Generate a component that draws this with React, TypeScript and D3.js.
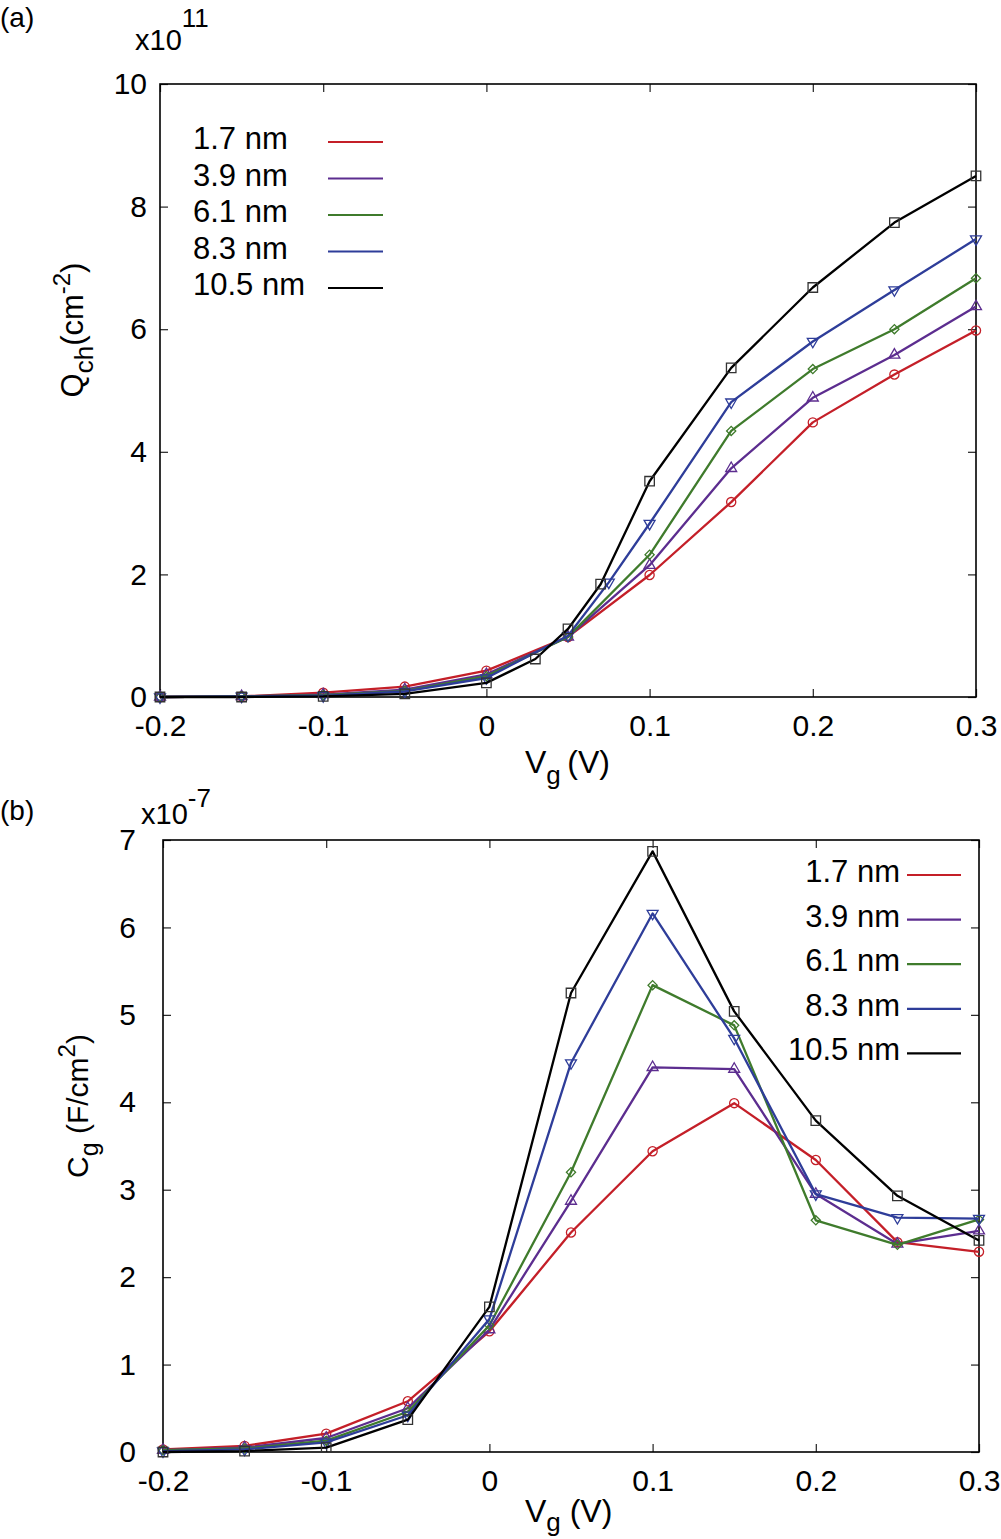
import { useEffect, useRef } from "react";
import * as d3 from "d3";

const W = 1001;
const H = 1539;
const FONT = "'Liberation Sans', Arial, Helvetica, sans-serif";

const seriesNames = ["1.7 nm", "3.9 nm", "6.1 nm", "8.3 nm", "10.5 nm"];
const seriesColors = ["#c41f28", "#5c2d8f", "#3f7b2c", "#2e3d99", "#000000"];
const seriesMarkers = ["circle", "triangleUp", "diamond", "triangleDown", "square"];

// gate voltage sweep (V)
const vg = [-0.2, -0.15, -0.1, -0.05, 0, 0.05, 0.1, 0.15, 0.2, 0.25, 0.3];
const vgQ83 = [-0.2, -0.15, -0.1, -0.05, 0, 0.05, 0.075, 0.1, 0.15, 0.2, 0.25, 0.3];
const vgQ105 = [-0.2, -0.15, -0.1, -0.05, 0, 0.03, 0.05, 0.07, 0.1, 0.15, 0.2, 0.25, 0.3];

// channel charge, x1e11 cm^-2
const q17 = [0, 0.01, 0.07, 0.17, 0.43, 0.98, 1.99, 3.18, 4.48, 5.26, 5.98];
const q39 = [0, 0.01, 0.04, 0.12, 0.37, 0.98, 2.15, 3.73, 4.88, 5.58, 6.37];
const q61 = [0, 0.01, 0.03, 0.1, 0.34, 0.98, 2.32, 4.34, 5.35, 6.0, 6.83];
const q83 = [0, 0.01, 0.02, 0.09, 0.31, 1.0, 1.87, 2.83, 4.81, 5.8, 6.64, 7.47];
const q105 = [0, 0, 0.01, 0.05, 0.23, 0.62, 1.11, 1.84, 3.52, 5.37, 6.68, 7.74, 8.5];

// gate capacitance, x1e-7 F/cm^2
const c17 = [0.03, 0.07, 0.21, 0.58, 1.38, 2.51, 3.44, 3.99, 3.34, 2.4, 2.29];
const c39 = [0.02, 0.05, 0.16, 0.5, 1.4, 2.87, 4.4, 4.38, 2.95, 2.38, 2.53];
const c61 = [0.02, 0.04, 0.13, 0.46, 1.45, 3.2, 5.34, 4.88, 2.65, 2.37, 2.66];
const c83 = [0.01, 0.03, 0.11, 0.42, 1.52, 4.45, 6.16, 4.73, 2.95, 2.68, 2.67];
const c105 = [0.0, 0.01, 0.05, 0.37, 1.66, 5.25, 6.87, 5.04, 3.79, 2.93, 2.42];

const xTicks = [-0.2, -0.1, 0, 0.1, 0.2, 0.3];
const qTicks = [0, 2, 4, 6, 8, 10];
const cTicks = [0, 1, 2, 3, 4, 5, 6, 7];

type Series = { name: string; color: string; marker: string; xs: number[]; ys: number[] };

const qSeries: Series[] = [
  [vg, q17],
  [vg, q39],
  [vg, q61],
  [vgQ83, q83],
  [vgQ105, q105],
].map(([xs, ys], i) => ({
  name: seriesNames[i],
  color: seriesColors[i],
  marker: seriesMarkers[i],
  xs,
  ys,
}));

const cSeries: Series[] = [c17, c39, c61, c83, c105].map((ys, i) => ({
  name: seriesNames[i],
  color: seriesColors[i],
  marker: seriesMarkers[i],
  xs: vg,
  ys,
}));

function markerPath(kind: string): string {
  switch (kind) {
    case "circle":
      return d3.symbol(d3.symbolCircle, 66)()!;
    case "triangleUp":
    case "triangleDown":
      return d3.symbol(d3.symbolTriangle, 52)()!;
    case "diamond":
      return d3.symbol(d3.symbolSquare, 42)()!;
    default:
      return d3.symbol(d3.symbolSquare, 90)()!;
  }
}

function markerRotation(kind: string) {
  if (kind === "triangleDown") return 180;
  if (kind === "diamond") return 45;
  return 0;
}

const fmtX = (v: number) => (v === 0 ? "0" : (v < 0 ? "-" : "") + Math.abs(v).toFixed(1));

type PanelCfg = {
  left: number;
  right: number;
  top: number;
  bottom: number;
  yDomain: [number, number];
  yTicks: number[];
  yPad: number;
  series: Series[];
};

function drawPanel(svg: d3.Selection<SVGSVGElement, unknown, null, undefined>, cfg: PanelCfg) {
  const x = d3.scaleLinear().domain([-0.2, 0.3]).range([cfg.left, cfg.right]);
  const y = d3.scaleLinear().domain(cfg.yDomain).range([cfg.bottom, cfg.top]);
  const tick = 8;

  const styleAxis = (g: any) => {
    g.select(".domain").remove();
    g.attr("font-family", FONT).attr("font-size", 30).attr("color", "#222");
    g.selectAll("text").attr("fill", "#000");
    g.selectAll("line").attr("stroke-width", 1.2);
  };

  svg
    .append("g")
    .attr("transform", `translate(0,${cfg.bottom})`)
    .call(d3.axisBottom(x).tickValues(xTicks).tickFormat((d: any) => fmtX(d)).tickSize(-tick).tickPadding(18))
    .call(styleAxis);
  svg
    .append("g")
    .attr("transform", `translate(0,${cfg.top})`)
    .call(d3.axisTop(x).tickValues(xTicks).tickFormat(() => "").tickSize(-tick))
    .call(styleAxis);
  svg
    .append("g")
    .attr("transform", `translate(${cfg.left},0)`)
    .call(d3.axisLeft(y).tickValues(cfg.yTicks).tickFormat(d3.format("d")).tickSize(-tick).tickPadding(cfg.yPad))
    .call(styleAxis);
  svg
    .append("g")
    .attr("transform", `translate(${cfg.right},0)`)
    .call(d3.axisRight(y).tickValues(cfg.yTicks).tickFormat(() => "").tickSize(-tick))
    .call(styleAxis);

  svg
    .append("rect")
    .attr("x", cfg.left)
    .attr("y", cfg.top)
    .attr("width", cfg.right - cfg.left)
    .attr("height", cfg.bottom - cfg.top)
    .attr("fill", "none")
    .attr("stroke", "#000")
    .attr("stroke-width", 1.6);

  const line = d3
    .line<[number, number]>()
    .x((d) => x(d[0]))
    .y((d) => y(d[1]));

  cfg.series.forEach((s) => {
    const pts: [number, number][] = s.xs.map((v, i) => [v, s.ys[i]]);
    const g = svg.append("g");
    g.append("path")
      .attr("d", line(pts))
      .attr("fill", "none")
      .attr("stroke", s.color)
      .attr("stroke-width", 2.3)
      .attr("stroke-linejoin", "round");
    g.selectAll("path.mk")
      .data(pts)
      .join("path")
      .attr("class", "mk")
      .attr("d", markerPath(s.marker))
      .attr("transform", (d) => `translate(${x(d[0])},${y(d[1])}) rotate(${markerRotation(s.marker)})`)
      .attr("fill", "none")
      .attr("stroke", s.color === "#000000" ? "#333" : s.color)
      .attr("stroke-width", 1.3);
  });
}

export default function App() {
  const svgRef = useRef<SVGSVGElement>(null);

  useEffect(() => {
    const svg = d3.select(svgRef.current!);
    svg.selectAll("*").remove();
    svg.attr("font-family", FONT);

    // (a) channel charge
    drawPanel(svg, {
      left: 160, right: 976, top: 84, bottom: 697,
      yDomain: [0, 10], yTicks: qTicks, yPad: 13, series: qSeries,
    });

    // (b) gate capacitance
    drawPanel(svg, {
      left: 163, right: 979, top: 840, bottom: 1452,
      yDomain: [0, 7], yTicks: cTicks, yPad: 27, series: cSeries,
    });

    const txt = (x: number, y: number, size = 30) =>
      svg.append("text").attr("x", x).attr("y", y).attr("font-size", size).attr("fill", "#000");

    txt(0, 27, 28).text("(a)");
    txt(0, 820, 28).text("(b)");

    const e1 = txt(135, 50, 29);
    e1.append("tspan").text("x10");
    e1.append("tspan").attr("dy", -23).attr("font-size", 26).text("11");
    const e2 = txt(141, 824, 29);
    e2.append("tspan").text("x10");
    e2.append("tspan").attr("dy", -17).attr("font-size", 26).text("-7");

    // axis titles
    [773, 1522].forEach((base, i) => {
      const t = txt(525, base, 32);
      t.append("tspan").text("V");
      t.append("tspan").attr("dy", i === 0 ? 11 : 9).attr("font-size", 26).text("g");
      t.append("tspan").attr("dy", i === 0 ? -11 : -9).text(i === 0 ? "\u2009(V)" : "\u00a0(V)");
    });

    const qLab = svg
      .append("text")
      .attr("transform", "translate(83,330) rotate(-90)")
      .attr("text-anchor", "middle")
      .attr("font-size", 31);
    qLab.append("tspan").text("Q");
    qLab.append("tspan").attr("dy", 10).attr("font-size", 26).text("ch");
    qLab.append("tspan").attr("dy", -10).text("(cm");
    qLab.append("tspan").attr("dy", -13).attr("font-size", 24).text("-2");
    qLab.append("tspan").attr("dy", 13).text(")");

    const cLab = svg
      .append("text")
      .attr("transform", "translate(88,1106) rotate(-90)")
      .attr("text-anchor", "middle")
      .attr("font-size", 30);
    cLab.append("tspan").text("C");
    cLab.append("tspan").attr("dy", 10).attr("font-size", 25).text("g");
    cLab.append("tspan").attr("dy", -10).text(" (F/cm");
    cLab.append("tspan").attr("dy", -13).attr("font-size", 24).text("2");
    cLab.append("tspan").attr("dy", 13).text(")");

    // legend (a): text left, sample line right
    seriesNames.forEach((name, i) => {
      const base = 149 + i * 36.5;
      txt(193, base, 31).text(name);
      svg
        .append("line")
        .attr("x1", 328)
        .attr("x2", 383)
        .attr("y1", base - 7)
        .attr("y2", base - 7)
        .attr("stroke", seriesColors[i])
        .attr("stroke-width", 2.2);
    });

    // legend (b): text right-aligned, sample line right
    seriesNames.forEach((name, i) => {
      const base = 882 + i * 44.6;
      txt(900, base, 31).attr("text-anchor", "end").text(name);
      svg
        .append("line")
        .attr("x1", 907)
        .attr("x2", 961)
        .attr("y1", base - 7)
        .attr("y2", base - 7)
        .attr("stroke", seriesColors[i])
        .attr("stroke-width", 2.2);
    });
  }, []);

  return (
    <svg
      ref={svgRef}
      width={W}
      height={H}
      style={{ position: "absolute", left: 0, top: 0, background: "#fff" }}
    />
  );
}
